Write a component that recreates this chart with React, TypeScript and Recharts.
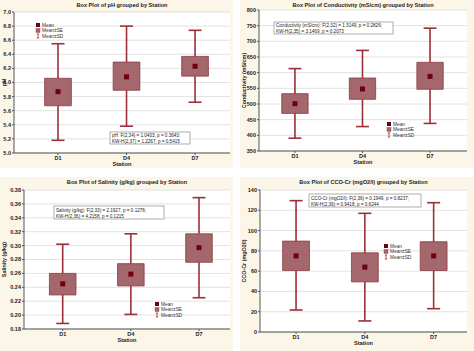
import React from 'react';
import {
  ComposedChart,
  XAxis,
  YAxis,
  CartesianGrid,
  ReferenceArea,
  ReferenceLine,
  Scatter,
} from 'recharts';

const stations = ['D1', 'D4', 'D7'];
const stationPos = [1, 2, 3];

// pH
const phMean = [5.87, 6.08, 6.23];
const phSeLow = [5.67, 5.89, 6.09];
const phSeHigh = [6.06, 6.29, 6.37];
const phSdLow = [5.18, 5.38, 5.72];
const phSdHigh = [6.55, 6.8, 6.74];
const phTicks = [5.0, 5.2, 5.4, 5.6, 5.8, 6.0, 6.2, 6.4, 6.6, 6.8, 7.0];

// conductivity (mS/cm)
const condMean = [501, 548, 588];
const condSeLow = [470, 515, 547];
const condSeHigh = [533, 583, 633];
const condSdLow = [391, 428, 438];
const condSdHigh = [613, 671, 742];
const condTicks = [350, 400, 450, 500, 550, 600, 650, 700, 750, 800];

// salinity (g/kg)
const salMean = [0.245, 0.259, 0.297];
const salSeLow = [0.229, 0.242, 0.276];
const salSeHigh = [0.26, 0.274, 0.317];
const salSdLow = [0.188, 0.201, 0.225];
const salSdHigh = [0.302, 0.317, 0.369];
const salTicks = [0.18, 0.2, 0.22, 0.24, 0.26, 0.28, 0.3, 0.32, 0.34, 0.36, 0.38];

// CCO-Cr (mgO2/l)
const codMean = [75, 64, 75];
const codSeLow = [60.6, 49.4, 60.6];
const codSeHigh = [89.6, 78.1, 89];
const codSdLow = [21.7, 10.9, 23];
const codSdHigh = [129.5, 117, 127.5];
const codTicks = [0, 20, 40, 60, 80, 100, 120, 140];

const BOX_FILL = '#a3676c';
const BOX_STROKE = '#8c3a43';
const WHISKER = '#9b3039';
const MEAN = '#6e0010';
const FONT = 'Liberation Sans, Arial, sans-serif';

interface PanelCfg {
  left: number;
  top: number;
  width: number;
  height: number;
  plot: { l: number; r: number; t: number; b: number };
  xDomain: [number, number];
  yTicks: number[];
  digits: number;
  title: string;
  yLabel: string;
  mean: number[];
  seLow: number[];
  seHigh: number[];
  sdLow: number[];
  sdHigh: number[];
  legend: [number, number];
  statBox: [number, number, number, number];
  statLines: string[];
}

const panels: PanelCfg[] = [
  {
    left: 0, top: 0, width: 233, height: 168,
    plot: { l: 14, r: 230, t: 12, b: 153 },
    xDomain: [0.358, 3.51],
    yTicks: phTicks, digits: 1,
    title: 'Box Plot of pH grouped by  Station',
    yLabel: 'pH',
    mean: phMean, seLow: phSeLow, seHigh: phSeHigh, sdLow: phSdLow, sdHigh: phSdHigh,
    legend: [36, 25],
    statBox: [110, 132, 80, 12],
    statLines: ['pH:    F(2,34) = 1.0403, p = 0.3643;', 'KW-H(2,37) = 1.2267, p = 0.5415'],
  },
  {
    left: 240, top: 0, width: 234, height: 168,
    plot: { l: 19, r: 227, t: 10, b: 151 },
    xDomain: [0.468, 3.547],
    yTicks: condTicks, digits: 0,
    title: 'Box Plot of Conductivity (mS/cm) grouped by  Station',
    yLabel: 'Conductivity (mS/cm)',
    mean: condMean, seLow: condSeLow, seHigh: condSeHigh, sdLow: condSdLow, sdHigh: condSdHigh,
    legend: [147, 124],
    statBox: [34, 22, 119, 12],
    statLines: ['Conductivity (mS/cm):    F(2,32) = 1.3149, p = 0.2826;', 'KW-H(2,35) = 3.1469, p = 0.2073'],
  },
  {
    left: 0, top: 177, width: 233, height: 174,
    plot: { l: 24, r: 230, t: 13, b: 152 },
    xDomain: [0.432, 3.455],
    yTicks: salTicks, digits: 2,
    title: 'Box Plot of Salinity  (g/kg) grouped by  Station',
    yLabel: 'Salinity  (g/kg)',
    mean: salMean, seLow: salSeLow, seHigh: salSeHigh, sdLow: salSdLow, sdHigh: salSdHigh,
    legend: [155, 127],
    statBox: [54, 29, 110, 13],
    statLines: ['Salinity  (g/kg):    F(2,33) = 2.1927, p = 0.1276;', 'KW-H(2,36) = 4.2158, p = 0.1215'],
  },
  {
    left: 240, top: 177, width: 234, height: 174,
    plot: { l: 20, r: 227, t: 13, b: 155 },
    xDomain: [0.476, 3.485],
    yTicks: codTicks, digits: 0,
    title: 'Box Plot of CCO-Cr (mgO2/l) grouped by  Station',
    yLabel: 'CCO-Cr (mgO2/l)',
    mean: codMean, seLow: codSeLow, seHigh: codSeHigh, sdLow: codSdLow, sdHigh: codSdHigh,
    legend: [144, 69],
    statBox: [69, 17, 112, 13],
    statLines: ['CCO-Cr (mgO2/l):    F(2,36) = 0.1949, p = 0.8237;', 'KW-H(2,39) = 0.9418, p = 0.6244'],
  },
];

const BOX_HALF = 0.195;
const CAP_HALF = 0.095;

const tickStyle = { fontSize: 5.5, fontWeight: 'bold' as const, fill: '#222', fontFamily: FONT };

const MeanShape = (props: any) => {
  const { cx, cy } = props;
  if (cx == null || cy == null) return null;
  return <rect x={cx - 2.5} y={cy - 2.5} width={5} height={5} fill={MEAN} />;
};

const Panel = ({ cfg }: { cfg: PanelCfg }) => {
  const { plot, width, height } = cfg;
  const yMin = cfg.yTicks[0];
  const yMax = cfg.yTicks[cfg.yTicks.length - 1];
  const meanData = stationPos.map((x, i) => ({ x, y: cfg.mean[i] }));
  const plotMidX = (plot.l + plot.r) / 2;
  const plotMidY = (plot.t + plot.b) / 2;
  const [lx, ly] = cfg.legend;
  const [sx, sy, sw, sh] = cfg.statBox;

  return (
    <div
      style={{
        position: 'absolute',
        left: cfg.left,
        top: cfg.top,
        width,
        height,
        background: '#fcf6e9',
      }}
    >
      <ComposedChart
        width={width}
        height={height}
        margin={{ top: plot.t, right: width - plot.r, left: 0, bottom: 0 }}
      >
        <CartesianGrid vertical={false} stroke="#e2e2e2" fill="#ffffff" />
        <XAxis
          dataKey="x"
          type="number"
          domain={cfg.xDomain}
          ticks={stationPos}
          tickFormatter={(v) => stations[stationPos.indexOf(v)] ?? ''}
          height={height - plot.b}
          tick={tickStyle}
          tickSize={2}
          tickMargin={1}
          axisLine={{ stroke: '#555' }}
          tickLine={{ stroke: '#555' }}
          allowDataOverflow
        />
        <XAxis
          xAxisId="top"
          orientation="top"
          type="number"
          domain={cfg.xDomain}
          height={0}
          tick={false}
          tickLine={false}
          axisLine={{ stroke: '#888' }}
        />
        <YAxis
          type="number"
          domain={[yMin, yMax]}
          ticks={cfg.yTicks}
          tickFormatter={(v) => Number(v).toFixed(cfg.digits)}
          width={plot.l}
          tick={tickStyle}
          tickSize={2}
          tickMargin={1}
          axisLine={{ stroke: '#555' }}
          tickLine={{ stroke: '#555' }}
          interval={0}
          allowDataOverflow
        />
        <YAxis
          yAxisId="right"
          orientation="right"
          width={0}
          tick={false}
          tickLine={false}
          axisLine={{ stroke: '#888' }}
        />
        {stationPos.map((x, i) => (
          <React.Fragment key={stations[i]}>
            <ReferenceLine
              segment={[{ x, y: cfg.sdLow[i] }, { x, y: cfg.seLow[i] }]}
              stroke={WHISKER}
              strokeWidth={1.6}
            />
            <ReferenceLine
              segment={[{ x, y: cfg.seHigh[i] }, { x, y: cfg.sdHigh[i] }]}
              stroke={WHISKER}
              strokeWidth={1.6}
            />
            <ReferenceLine
              segment={[{ x: x - CAP_HALF, y: cfg.sdLow[i] }, { x: x + CAP_HALF, y: cfg.sdLow[i] }]}
              stroke={WHISKER}
              strokeWidth={1.6}
            />
            <ReferenceLine
              segment={[{ x: x - CAP_HALF, y: cfg.sdHigh[i] }, { x: x + CAP_HALF, y: cfg.sdHigh[i] }]}
              stroke={WHISKER}
              strokeWidth={1.6}
            />
            <ReferenceArea
              x1={x - BOX_HALF}
              x2={x + BOX_HALF}
              y1={cfg.seLow[i]}
              y2={cfg.seHigh[i]}
              fill={BOX_FILL}
              fillOpacity={1}
              stroke={BOX_STROKE}
              strokeWidth={0.8}
            />
          </React.Fragment>
        ))}
        <Scatter data={meanData} dataKey="y" shape={MeanShape} isAnimationActive={false} />
      </ComposedChart>
      <svg
        width={width}
        height={height}
        style={{ position: 'absolute', left: 0, top: 0, pointerEvents: 'none' }}
        fontFamily={FONT}
      >
        <text x={plotMidX} y={7} textAnchor="middle" fontSize={5.6} fontWeight="bold" fill="#222">
          {cfg.title}
        </text>
        <text x={plotMidX} y={plot.b + 13} textAnchor="middle" fontSize={5.6} fontWeight="bold" fill="#222">
          Station
        </text>
        <text
          x={4}
          y={plotMidY}
          textAnchor="middle"
          fontSize={5.4}
          fontWeight="bold"
          fill="#222"
          transform={`rotate(-90 4 ${plotMidY})`}
          dominantBaseline="central"
        >
          {cfg.yLabel}
        </text>
        {/* legend */}
        <rect x={lx} y={ly - 2} width={4} height={4} fill={MEAN} />
        <text x={lx + 6} y={ly + 1.7} fontSize={4.8} fill="#333">Mean</text>
        <rect x={lx} y={ly + 3.5} width={4} height={4} fill={BOX_FILL} stroke={BOX_STROKE} strokeWidth={0.4} />
        <text x={lx + 6} y={ly + 7.2} fontSize={4.8} fill="#333">Mean±SE</text>
        <line x1={lx + 2} x2={lx + 2} y1={ly + 9} y2={ly + 13} stroke={WHISKER} strokeWidth={0.8} />
        <line x1={lx + 0.8} x2={lx + 3.2} y1={ly + 9} y2={ly + 9} stroke={WHISKER} strokeWidth={0.8} />
        <line x1={lx + 0.8} x2={lx + 3.2} y1={ly + 13} y2={ly + 13} stroke={WHISKER} strokeWidth={0.8} />
        <text x={lx + 6} y={ly + 12.7} fontSize={4.8} fill="#333">Mean±SD</text>
        {/* stats box */}
        <rect x={sx} y={sy} width={sw} height={sh} fill="#fff" stroke="#777" strokeWidth={0.6} />
        <text x={sx + 2} y={sy + sh / 2 - 0.8} fontSize={4.6} fill="#222">{cfg.statLines[0]}</text>
        <text x={sx + 2} y={sy + sh - 1.5} fontSize={4.6} fill="#222">{cfg.statLines[1]}</text>
      </svg>
    </div>
  );
};

export default function App() {
  return (
    <div style={{ position: 'absolute', left: 0, top: 0, width: 474, height: 351, background: '#fff' }}>
      {panels.map((p) => (
        <Panel key={p.title} cfg={p} />
      ))}
    </div>
  );
}
